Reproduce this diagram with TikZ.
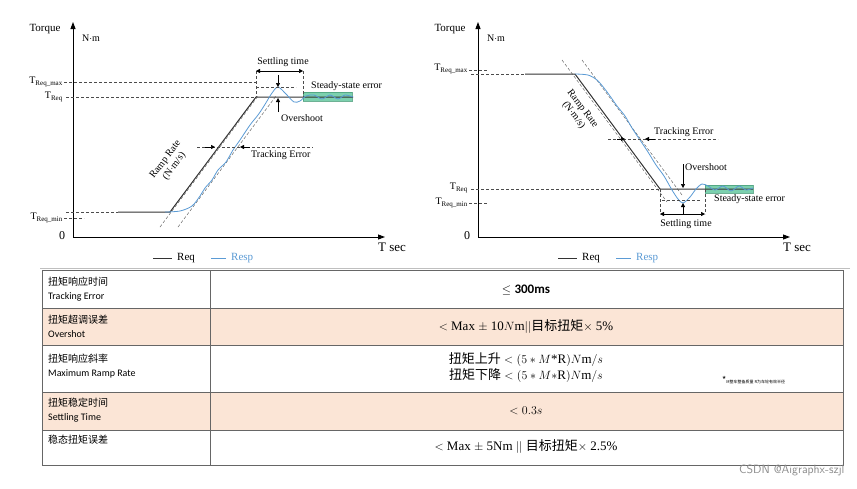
\documentclass[tikz,border=0pt]{standalone}
\usepackage{fontspec}
\setmainfont{Liberation Serif}
\newfontfamily\cjk{Noto Sans CJK SC}
\newfontfamily\calfont{Carlito}
\usetikzlibrary{arrows.meta}
\definecolor{peach}{HTML}{FBE5D6}
\definecolor{resp}{HTML}{5B9BD5}
\definecolor{sse}{HTML}{5CC59A}
\tikzset{
 lbl/.style={font=\fontsize{10}{11}\selectfont,inner sep=1pt},
 axis/.style={line width=0.9pt,-{Triangle[length=7pt,width=5pt]}},
 req/.style={line width=1pt,black!80},
 rsp/.style={resp,line width=0.8pt},
 dsh/.style={densely dashed,line width=0.4pt,black!70},
 tip/.style={line width=0.5pt,-{Triangle[length=4pt,width=4pt]}},
 tcell/.style={font=\cjk\fontsize{10}{14}\selectfont,align=left,anchor=west,inner sep=0pt},
 vcell/.style={font=\fontsize{13}{16}\selectfont,align=center,inner sep=0pt},
}
\begin{document}
\begin{tikzpicture}[x=1pt,y=-1pt]
\useasboundingbox (0,0) rectangle (857,488);
\fill[white] (0,0) rectangle (857,488);
% ================= LEFT CHART
\coordinate (lo) at (73,237);
\draw[axis] (lo) -- (73,22);
\draw[axis] (lo) -- (385,237);
\node[lbl,font=\fontsize{11}{12}\selectfont] (ltq) at (45,29) {Torque};
\node[lbl] (lnm) at (91,38) {N$\cdot$m};
\node[lbl,font=\fontsize{12}{13}\selectfont] (l0) at (62,236) {0};
\node[lbl,font=\fontsize{13}{14}\selectfont] (lts) at (392,247) {T sec};
\node[lbl,anchor=east] (lmax) at (64,82) {T\textsubscript{\scriptsize Req\_max}};
\node[lbl,anchor=east] (lreq) at (64,97) {T\textsubscript{\scriptsize Req}};
\node[lbl,anchor=east] (lmin) at (64,218) {T\textsubscript{\scriptsize Req\_min}};
\draw[dsh] (64,82) -- (256,82);
\draw[dsh] (66,97) -- (256,97);
\draw[dsh] (66,212) -- (118,212);
\draw[dsh] (64,218) -- (84,218);
\draw[fill=sse,draw=sse!80!black,line width=0.3pt,opacity=0.8] (303,92) rectangle (352,101);
\draw[req] (118,212) -- (170,212) -- (256,97) -- (353,97);
\draw[dsh] (160,227) -- (258,96);
\draw[dsh] (178,227) -- (276,96);
\draw[rsp] plot[smooth,tension=0.5] coordinates {(165,212)(180,211)(192,206)(200,196)(205,188)(212,180)(218,170)(226,162)(233,150)(240,140)(250,125)(258,115)(264,106)(272,93)(278,87)(286,94)(294,102)(300,101)(306,96)(314,95)(322,99)(330,95)(338,99)(345,95)(353,97)};
\draw[dsh] (256,71) -- (256,97);
\draw[dsh] (303,71) -- (303,97);
\draw[dsh] (256,87) -- (296,87);
\draw[{Triangle[length=4pt,width=4pt]}-{Triangle[length=4pt,width=4pt]},line width=0.5pt] (256,71) -- (303,71);
\node[lbl] (lst) at (283,62) {Settling time};
\node[lbl,anchor=west] (lsse) at (310,86) {Steady-state error};
\draw[tip] (278,75) -- (278,87);
\draw[tip] (278,112) -- (278,98);
\node[lbl,anchor=west] (los) at (280,118) {Overshoot};
\draw[dsh] (197,147) -- (313,147);
\draw[tip] (205,147) -- (215,147);
\draw[tip] (250,147) -- (240,147);
\node[lbl,anchor=west] (lte) at (250,155) {Tracking Error};
\node[lbl,rotate=53,align=center] (lrr) at (170,163) {Ramp Rate\\(N$\cdot$m/s)};
\draw[req,line width=0.8pt] (153,258) -- (172,258);
\node[lbl,font=\fontsize{11}{12}\selectfont,anchor=west] (lrq) at (176,258) {Req};
\draw[rsp] (211,258) -- (226,258);
\node[lbl,font=\fontsize{11}{12}\selectfont,anchor=west,text=resp] (lrp) at (230,258) {Resp};
% ================= RIGHT CHART
\coordinate (ro) at (478,237);
\draw[axis] (ro) -- (478,22);
\draw[axis] (ro) -- (790,237);
\node[lbl,font=\fontsize{11}{12}\selectfont] (rtq) at (450,29) {Torque};
\node[lbl] (rnm) at (496,38) {N$\cdot$m};
\node[lbl,font=\fontsize{12}{13}\selectfont] (r0) at (467,236) {0};
\node[lbl,font=\fontsize{13}{14}\selectfont] (rts) at (797,247) {T sec};
\node[lbl,anchor=east] (rmax) at (469,69) {T\textsubscript{\scriptsize Req\_max}};
\node[lbl,anchor=east] (rreq) at (469,188) {T\textsubscript{\scriptsize Req}};
\node[lbl,anchor=east] (rmin) at (469,203) {T\textsubscript{\scriptsize Req\_min}};
\draw[dsh] (469,70) -- (488,70);
\draw[dsh] (471,74) -- (525,74);
\draw[dsh] (471,189) -- (660,189);
\draw[dsh] (469,203) -- (488,203);
\draw[fill=sse,draw=sse!80!black,line width=0.3pt,opacity=0.8] (705,185) rectangle (753,193);
\draw[req] (525,74) -- (575,74) -- (660,189) -- (753,189);
\draw[dsh] (562,60) -- (667,202);
\draw[dsh] (582,60) -- (682,195);
\draw[rsp] plot[smooth,tension=0.5] coordinates {(575,74)(588,75)(597,80)(604,88)(610,96)(617,106)(625,116)(632,128)(640,140)(648,152)(656,165)(664,176)(672,190)(678,199)(683,203)(690,197)(696,189)(702,184)(708,186)(715,190)(723,186)(731,191)(739,186)(746,190)(753,188)};
\draw[dsh] (660,189) -- (660,214);
\draw[dsh] (705,189) -- (705,214);
\draw[dsh] (662,200) -- (700,200);
\draw[{Triangle[length=4pt,width=4pt]}-{Triangle[length=4pt,width=4pt]},line width=0.5pt] (660,214) -- (705,214);
\node[lbl] (rst) at (686,224) {Settling time};
\node[lbl,anchor=west] (rsse) at (713,199) {Steady-state error};
\draw[tip] (683,175) -- (683,188);
\draw[tip] (683,214) -- (683,203);
\draw[line width=0.5pt] (683,164) -- (683,175);
\node[lbl,anchor=west] (ros) at (684,167) {Overshoot};
\draw[dsh] (608,139) -- (718,139);
\draw[tip] (617,139) -- (625,139);
\draw[tip] (655,139) -- (645,139);
\node[lbl,anchor=west] (rte) at (653,132) {Tracking Error};
\node[lbl,rotate=-53,align=center] (rrr) at (578,112) {Ramp Rate\\(N$\cdot$m/s)};
\draw[req,line width=0.8pt] (558,258) -- (577,258);
\node[lbl,font=\fontsize{11}{12}\selectfont,anchor=west] (rrq) at (581,258) {Req};
\draw[rsp] (616,258) -- (631,258);
\node[lbl,font=\fontsize{11}{12}\selectfont,anchor=west,text=resp] (rrp) at (635,258) {Resp};
\draw[black!25,line width=0.5pt] (40,268) -- (850,268);
% ================= TABLE
\fill[peach] (42,308) rectangle (843,345);
\fill[peach] (42,392) rectangle (843,430);
\draw[black!60,line width=0.6pt] (42,270) rectangle (843,465);
\foreach \yy in {308,345,392,430} \draw[black!60,line width=0.6pt] (42,\yy) -- (843,\yy);
\draw[black!60,line width=0.6pt] (210,270) -- (210,465);
\node[tcell] (c1) at (48,289) {扭矩响应时间\\{\calfont Tracking Error}};
\node[tcell] (c2) at (48,326) {扭矩超调误差\\{\calfont Overshot}};
\node[tcell] (c3) at (48,366) {扭矩响应斜率\\{\calfont Maximum Ramp Rate}};
\node[tcell] (c4) at (48,410) {扭矩稳定时间\\{\calfont Settling Time}};
\node[tcell] (c5) at (48,440) {稳态扭矩误差};
\node[vcell] (v1) at (526,290) {$\leq$ {\calfont\bfseries 300ms}};
\node[vcell] (v2) at (526,327) {$<$ Max $\pm$ 10$N$m$||${\cjk 目标扭矩}$\times$ 5\%};
\node[vcell] (v3) at (526,368) {{\cjk 扭矩上升} $<(5*M$*R$)N$m$/s$\\{\cjk 扭矩下降} $<(5*M*$R$)N$m$/s$};
\node[vcell,font=\cjk\fontsize{4}{5}\selectfont,anchor=west] (v3n) at (722,380) {{\fontsize{9}{9}\selectfont *}M整车整备质量 R为车轮有效半径};
\node[vcell] (v4) at (526,411) {$<0.3s$};
\node[vcell] (v5) at (526,447) {$<$ Max $\pm$ 5Nm $||$ {\cjk 目标扭矩}$\times$ 2.5\%};
\node[font=\fontsize{12}{13}\selectfont\sffamily,text=black!45,anchor=east] (wm) at (848,470) {CSDN @Aigraphx-szjl};
\end{tikzpicture}
\end{document}
